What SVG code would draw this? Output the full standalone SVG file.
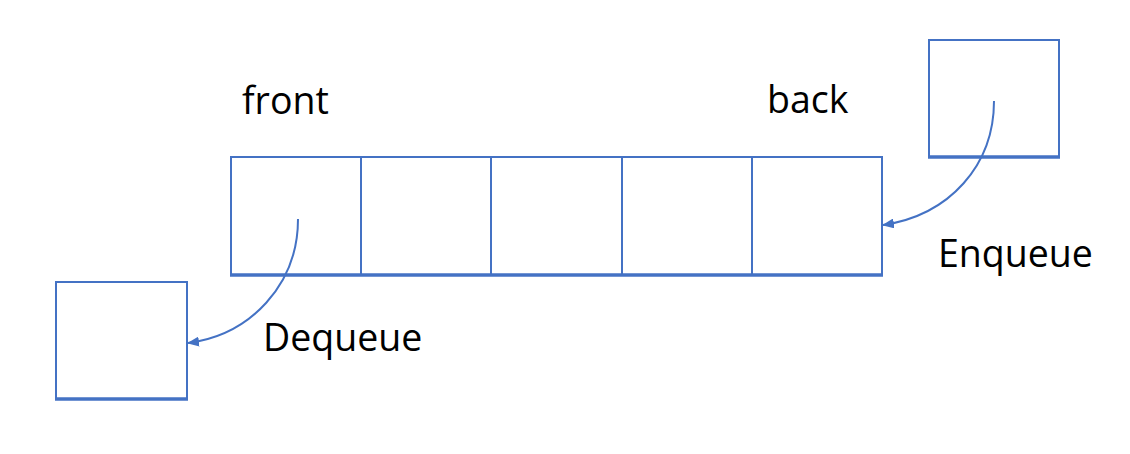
<svg xmlns="http://www.w3.org/2000/svg" width="1130" height="454" viewBox="0 0 1130 454">
<style>
.box{fill:#fff;stroke:#4472C4;stroke-width:2}
.base{stroke:#4472C4;stroke-width:3.5}
.lbl{font-family:"Open Sans","Liberation Sans",sans-serif;font-size:37.5px;fill:#000}
.con{fill:none;stroke:#4472C4;stroke-width:2}
</style>
<defs>
<marker id="ah" markerUnits="userSpaceOnUse" markerWidth="12" markerHeight="10" viewBox="0 0 12 10" refX="11" refY="5" orient="auto">
<path d="M0,0 L12,5 L0,10 Z" fill="#4472C4"/>
</marker>
</defs>
<rect width="1130" height="454" fill="#fff"/>
<g id="queue">
<rect class="box" x="231" y="157" width="651" height="118"/>
<line class="box" x1="361" y1="157" x2="361" y2="275"/>
<line class="box" x1="491" y1="157" x2="491" y2="275"/>
<line class="box" x1="622" y1="157" x2="622" y2="275"/>
<line class="box" x1="752" y1="157" x2="752" y2="275"/>
<line class="base" x1="230" y1="275" x2="883" y2="275"/>
</g>
<g id="incoming">
<rect class="box" x="929" y="40" width="130" height="117"/>
<line class="base" x1="928" y1="157" x2="1060" y2="157"/>
</g>
<g id="outgoing">
<rect class="box" x="56" y="282" width="131" height="117"/>
<line class="base" x1="55" y1="399" x2="188" y2="399"/>
</g>
<g id="labels">
<text class="lbl" x="242" y="114">front</text>
<text class="lbl" x="767" y="113">back</text>
<text class="lbl" x="938" y="267">Enqueue</text>
<text class="lbl" x="263" y="351">Dequeue</text>
</g>
<g id="connectors">
<path class="con" d="M994,101 C994,165 950,215 883,225" marker-end="url(#ah)"/>
<path class="con" d="M298,219 C298,285 250,335 188,343" marker-end="url(#ah)"/>
</g>
</svg>
